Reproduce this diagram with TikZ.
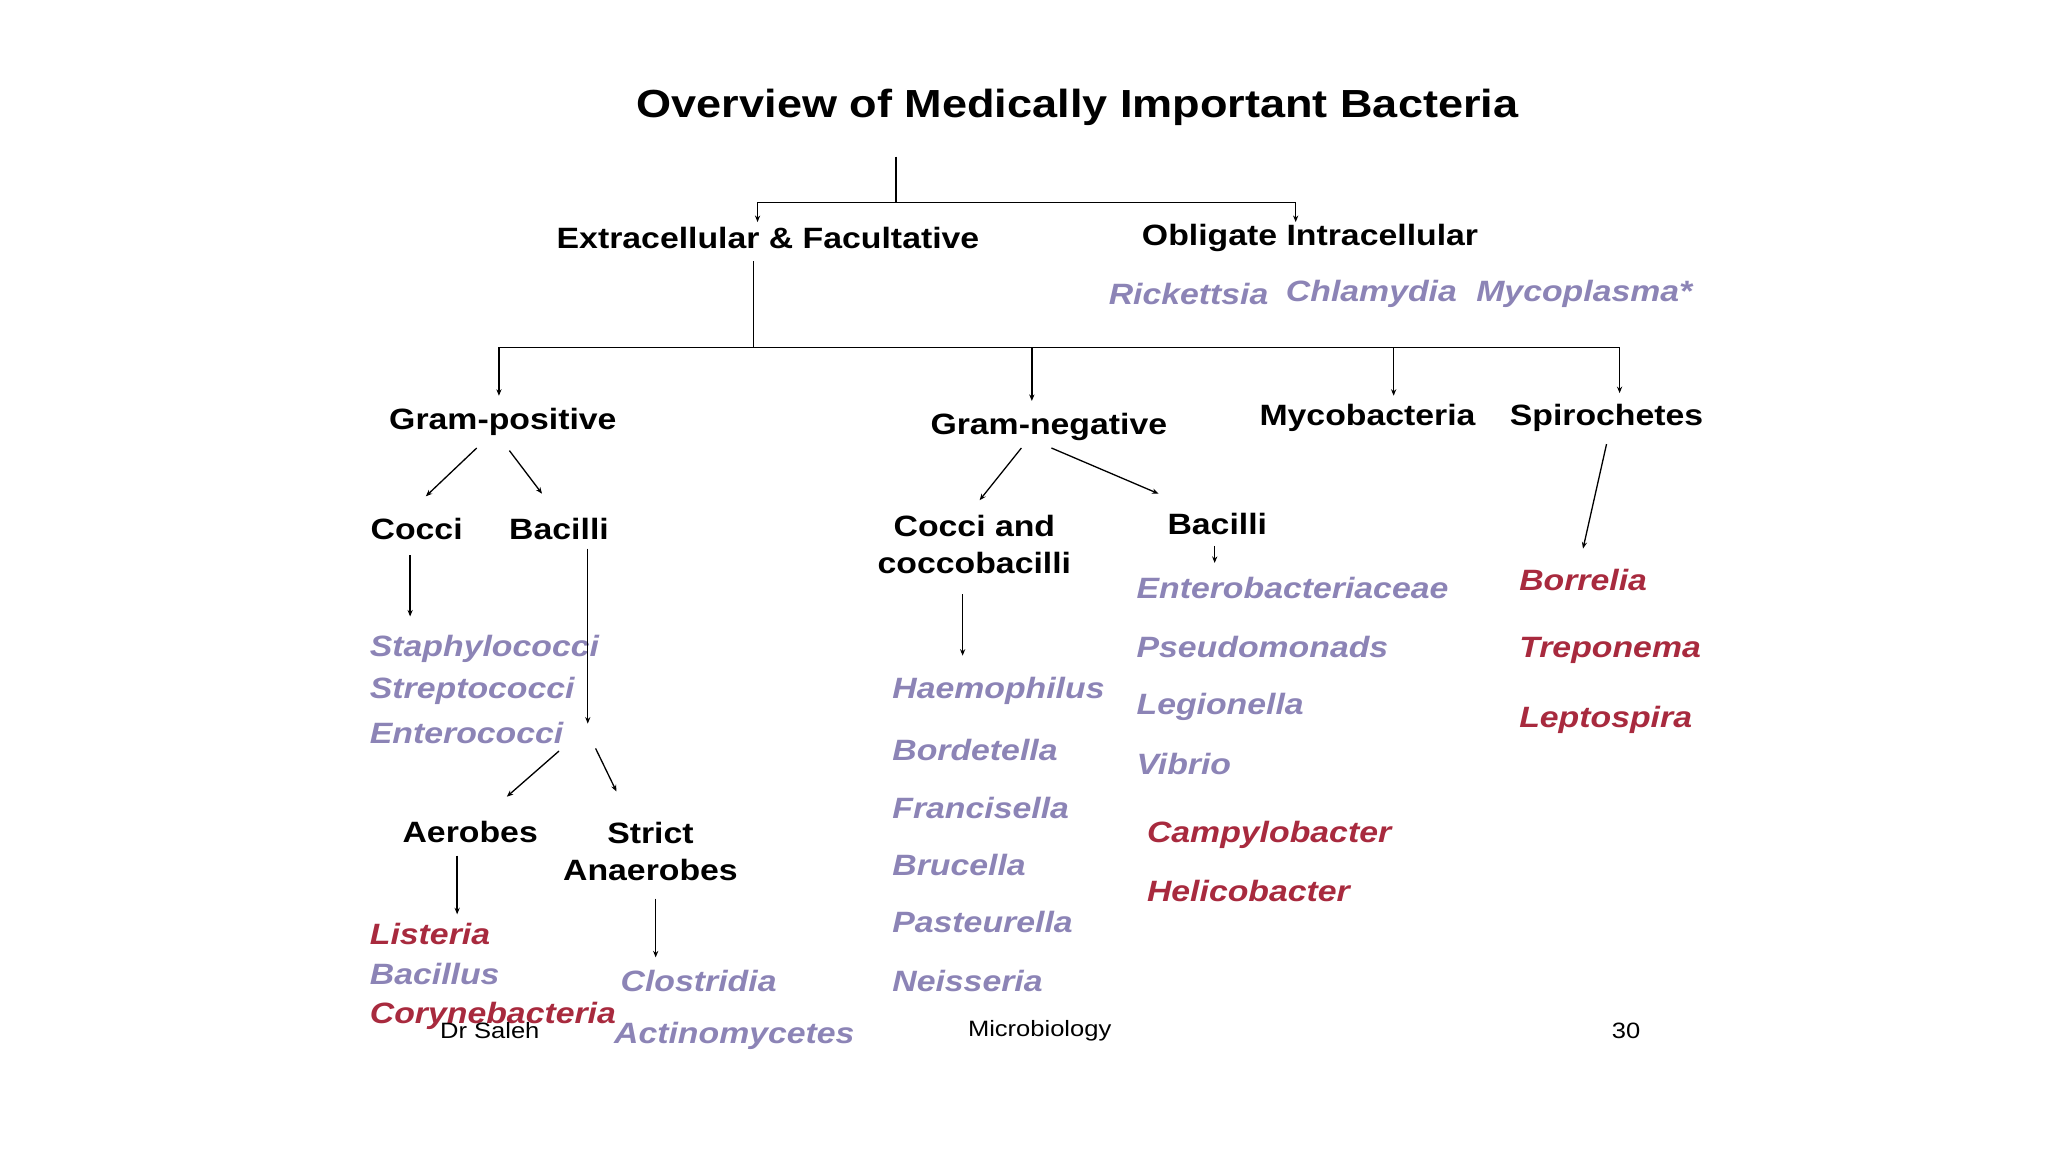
\documentclass[tikz,border=0pt]{standalone}
\usepackage{fontspec}
\setmainfont[FakeStretch=1.15]{Liberation Sans}
\usetikzlibrary{arrows.meta}
\definecolor{spp}{RGB}{140,132,182}
\definecolor{sred}{RGB}{168,42,62}
\begin{document}
\begin{tikzpicture}[x=1pt,y=-1pt,
  hd/.style={font=\fontsize{22.5}{28}\selectfont\bfseries,align=center,inner sep=1pt},
  sp/.style={font=\fontsize{22.5}{26}\selectfont\bfseries\itshape,text=spp,anchor=west,inner sep=0pt},
  sr/.style={sp,text=sred},
  ft/.style={font=\fontsize{17}{20}\selectfont,inner sep=0pt},
  ar/.style={-{Stealth[length=5pt,width=4pt]},line width=1pt},
  ln/.style={line width=1pt}]
\useasboundingbox (0,0) rectangle (1568,882);
\node[font=\fontsize{30}{35}\selectfont\bfseries] (title) at (825,82) {Overview of Medically Important Bacteria};
\node[hd] (ext) at (588,182) {Extracellular \& Facultative};
\node[hd] (obl) at (1003,182) {Obligate Intracellular};
\node[sp,anchor=center] (ric) at (910,225) {Rickettsia};
\node[sp,anchor=center] (chl) at (1050,225) {Chlamydia};
\node[sp,anchor=center] (myc) at (1213,225) {Mycoplasma*};
\coordinate (t0) at (686,120); \coordinate (t1) at (686,155);
\coordinate (t2) at (580,155); \coordinate (t3) at (992,155);
\draw[ln] (t0)--(t1); \draw[ln] (t2)--(t3);
\draw[ar] (t2)--(580,170); \draw[ar] (t3)--(992,170);
\node[hd] (gp) at (385,323) {Gram-positive};
\node[hd] (gn) at (803,327) {Gram-negative};
\node[hd] (mb) at (1047,320) {Mycobacteria};
\node[hd] (sc) at (1230,320) {Spirochetes};
\coordinate (e0) at (577,200); \coordinate (e1) at (577,266);
\coordinate (h0) at (382,266); \coordinate (h1) at (790,266);
\coordinate (h2) at (1067,266); \coordinate (h3) at (1240,266);
\draw[ln] (e0)--(e1); \draw[ln] (h0)--(h3);
\draw[ar] (h0)--(382,303); \draw[ar] (h1)--(790,307);
\draw[ar] (h2)--(1067,303); \draw[ar] (h3)--(1240,301);
% gram positive
\node[hd] (gpc) at (319,405) {Cocci};
\node[hd] (gpb) at (428,405) {Bacilli};
\draw[ar] (365,343)--(326,380); \draw[ar] (390,345)--(415,378);
\draw[ar] (314,425)--(314,472);
\node[sp] (sta) at (283,497) {Staphylococci};
\node[sp] (str) at (283,529) {Streptococci};
\node[sp] (ent) at (283,561) {Enterococci};
\draw[ar] (450,420)--(450,554);
\draw[ar] (428,575)--(388,610); \draw[ar] (456,573)--(472,606);
\node[hd] (aer) at (360,637) {Aerobes};
\node[hd] (ana) at (498,652) {Strict\\Anaerobes};
\draw[ar] (350,655)--(350,700);
\node[sr] (lis) at (283,715) {Listeria};
\node[sp] (bac) at (283,746) {Bacillus};
\node[sr] (cor) at (283,778) {Corynebacteria};
\draw[ar] (502,688)--(502,733);
\node[sp] (clo) at (475,751) {Clostridia};
\node[sp] (act) at (470,793) {Actinomycetes};
% gram negative
\draw[ar] (782,343)--(750,383); \draw[ar] (805,343)--(887,378);
\node[hd] (gnc) at (746,417) {Cocci and\\coccobacilli};
\node[hd] (gnb) at (932,401) {Bacilli};
\draw[ar] (737,455)--(737,502);
\node[sp] (hae) at (683,529) {Haemophilus};
\node[sp] (bor) at (683,574) {Bordetella};
\node[sp] (fra) at (683,619) {Francisella};
\node[sp] (bru) at (683,662) {Brucella};
\node[sp] (pas) at (683,706) {Pasteurella};
\node[sp] (nei) at (683,751) {Neisseria};
\draw[ar] (930,418)--(930,431);
\node[sp] (ebt) at (870,450) {Enterobacteriaceae};
\node[sp] (pse) at (870,495) {Pseudomonads};
\node[sp] (leg) at (870,541) {Legionella};
\node[sp] (vib) at (870,585) {Vibrio};
\node[sr] (cam) at (878,639) {Campylobacter};
\node[sr] (hel) at (878,682) {Helicobacter};
% spirochetes
\draw[ar] (1230,340)--(1212,420);
\node[sr] (brr) at (1163,444) {Borrelia};
\node[sr] (tre) at (1163,498) {Treponema};
\node[sr] (lep) at (1163,551) {Leptospira};
% footer
\node[ft] (f1) at (375,789) {Dr Saleh};
\node[ft] (f2) at (796,789) {Microbiology};
\node[ft] (f3) at (1245,789) {30};
\end{tikzpicture}
\end{document}
